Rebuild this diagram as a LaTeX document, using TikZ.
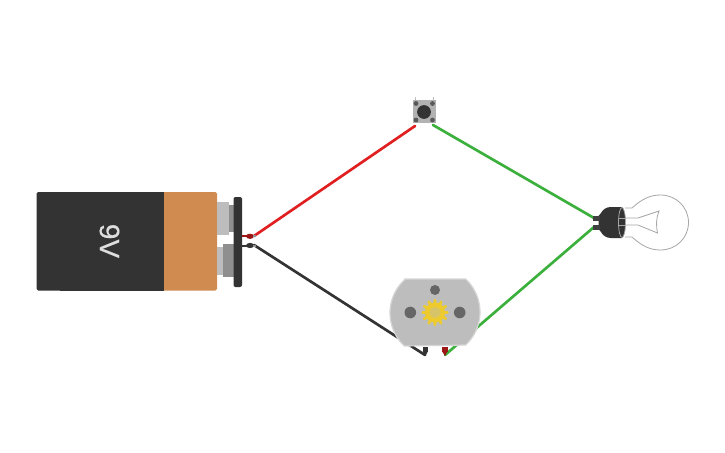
\documentclass[tikz,border=0pt]{standalone}
\usepackage{fontspec}
\setmainfont{Liberation Sans}
\newfontfamily\labelfont[FakeBold=0.5]{Liberation Sans}
\definecolor{dark}{HTML}{333333}
\definecolor{orangeb}{HTML}{D08C50}
\definecolor{wred}{HTML}{E02020}
\definecolor{wgreen}{HTML}{3CB03C}
\definecolor{lgray}{HTML}{BDBDBD}
\definecolor{mgray}{HTML}{8F8F8F}
\definecolor{gear}{HTML}{EDCB2F}
\definecolor{hub}{HTML}{D8C468}
\tikzset{
  wire/.style={line width=2pt,line cap=round},
  lead/.style={line width=1.5pt},
  glass/.style={draw=black!35,line width=0.6pt,fill=none},
}
\begin{document}
\begin{tikzpicture}[x=0.75pt,y=-0.75pt]
\useasboundingbox[fill=white] (0,0) rectangle (725,453);
% named connection points
\coordinate (batR) at (254,236);
\coordinate (batB) at (254,245);
\coordinate (btnL) at (415,126);
\coordinate (btnR) at (433,125);
\coordinate (motB) at (425,355);
\coordinate (motR) at (445,355);
\coordinate (blbT) at (594,218);
\coordinate (blbB) at (594,227);
% wires
\draw[wire,wred] (batR) -- (btnL);
\draw[wire,dark] (batB) -- (motB);
\draw[wire,wgreen] (btnR) -- (blbT);
\draw[wire,wgreen] (motR) -- (blbB);
% battery
\fill[rounded corners=1.2pt,orangeb] (150,192) rectangle (217,290.5);
\fill[rounded corners=1.2pt,dark] (36.5,192) rectangle (100,290.5);
\fill[dark] (60,192) rectangle (164,290.5);
\node[rotate=-90,text=black!13,font=\labelfont\fontsize{21pt}{22pt}\selectfont] (nine) at (109.5,241) {9V};
\fill[lgray] (217,202) rectangle (229,234.5);
\fill[mgray] (229,205) rectangle (234,232);
\fill[lgray] (217,247) rectangle (224,275);
\fill[mgray] (223,244) rectangle (234,277);
\fill[dark,rounded corners=1.5pt] (233.5,197) rectangle (242,287);
% battery leads
\draw[lead,wred!70!black] (242,236.3) -- (250,236.3);
\fill[wred!70!black] (250,236.3) ellipse (4 and 2.6);
\draw[lead,mgray] (253,236.3) -- (256,236.3);
\draw[lead,dark] (242,245.5) -- (250,245.5);
\fill[dark] (250,245.5) ellipse (4 and 2.6);
\draw[lead,mgray] (253,245.5) -- (256,245.5);
% push button
\fill[black!25] (414.5,97) rectangle (415.7,101);
\fill[black!25] (432.8,97) rectangle (434,101);
\fill[black!30] (412.5,100) rectangle (435.5,123.5);
\foreach \p in {(416,103.5),(432.5,103.5),(416,120),(432.5,120)} \fill[black!65] \p circle (2.4);
\fill[dark] (424,112) circle (6.9);
% motor
\draw[draw=black!16,fill=lgray,line width=0.9pt,line join=round] (404.4,279) -- (465.6,279)
  arc (-47.2:47.2:45) -- (404.4,346) arc (132.8:227.2:45) -- cycle;
\fill[black!60] (410.3,312.5) circle (5.8);
\fill[black!60] (459.7,312.5) circle (5.8);
\fill[black!60] (435,290) circle (5);
\fill[gear] (435,312.5) circle (10);
\foreach \a in {0,30,...,330}
  \fill[gear,rounded corners=0.6pt,rotate around={\a:(435,312.5)}] (432.4,312.5) -- (433.8,299) -- (436.2,299) -- (437.6,312.5) -- cycle;
\fill[hub] (435,312.5) circle (5.6);
% motor terminals
\fill[dark] (422.5,347) rectangle (428,352);
\fill[dark] (423,352) -- (427.5,352) -- (425.5,356) -- cycle;
\fill[wred!70!black] (442,347) rectangle (447.5,352);
\fill[wred!70!black] (442.5,352) -- (447,352) -- (445,356) -- cycle;
% bulb
\draw[glass] (625,208) -- (632,208) .. controls (642,199) and (650,195) .. (660.5,195)
  .. controls (676,195) and (688.5,207) .. (688.5,222.5)
  .. controls (688.5,238) and (676,250) .. (660.5,250)
  .. controls (650,250) and (642,246) .. (632,237) -- (625,237);
\draw[glass] (625,218) -- (638,218) -- (659,211) .. controls (656,218) and (656,226) .. (657.5,233)
  -- (638,225) -- (625,225);
\fill[dark] (598.5,216) -- (601,213) .. controls (603,209) and (607,207) .. (611,207) -- (622,207)
  -- (622,238) -- (611,238) .. controls (607,238) and (603,236) .. (601,232) -- (598.5,229) -- cycle;
\fill[black!75] (592.5,215.5) rectangle (600,220.5);
\fill[black!75] (592.5,224.5) rectangle (600,229.5);
\draw[draw=black!35,fill=dark,line width=0.6pt] (622,222.5) ellipse (3.5 and 15);
\draw[draw=black!35,line width=0.6pt] (618.5,218) -- (625.5,218) (618.5,225) -- (625.5,225);
\end{tikzpicture}
\end{document}
